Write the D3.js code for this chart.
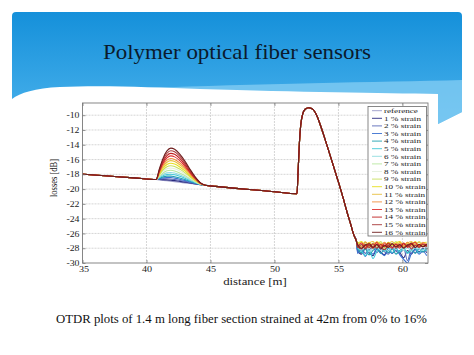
<!DOCTYPE html>
<html><head><meta charset="utf-8">
<script src="https://cdn.jsdelivr.net/npm/d3@7"></script>
<style>html,body{margin:0;padding:0;background:#fff;} svg{display:block}</style>
</head><body><svg id="c" width="474" height="355"></svg>
<script>
// ---------------- data ----------------
const seriesNames = ["reference","1 % strain","2 % strain","3 % strain","4 % strain","5 % strain","6 % strain","7 % strain","8 % strain","9 % strain","10 % strain","11 % strain","12 % strain","13 % strain","14 % strain","15 % strain","16 % strain"];
const seriesColors = ["#9a9ac8","#2a2a80","#5a6ab8","#3a70d0","#20a0b0","#40c8d8","#90dce0","#b8e8a0","#e4efdc","#c8e060","#e8e020","#e8c040","#f09040","#e03030","#c02020","#a83838","#6e1c1c"];
const xTicks = [35,40,45,50,55,60];
const yTicks = [-10,-12,-14,-16,-18,-20,-22,-24,-26,-28,-30];

const baseLeadIn = [[35,-17.97],[37,-18.23],[39,-18.48],[40.75,-18.71]];
const bumpDistance = [41.0,41.3,41.6,41.9,42.2,42.6,43.0,43.4,43.8,44.2];
const referenceBump = [-18.76,-18.82,-18.88,-18.94,-19.00,-19.08,-19.16,-19.24,-19.32,-19.40];
const strainBumps = [
  [-18.71,-18.72,-18.75,-18.79,-18.85,-18.95,-19.06,-19.18,-19.29,-19.39],
  [-18.66,-18.62,-18.61,-18.64,-18.71,-18.83,-18.96,-19.11,-19.25,-19.38],
  [-18.60,-18.49,-18.43,-18.44,-18.51,-18.66,-18.83,-19.03,-19.21,-19.37],
  [-18.54,-18.35,-18.25,-18.24,-18.32,-18.49,-18.70,-18.94,-19.17,-19.36],
  [-18.46,-18.18,-18.03,-18.00,-18.07,-18.27,-18.53,-18.83,-19.11,-19.34],
  [-18.38,-18.02,-17.80,-17.75,-17.83,-18.06,-18.37,-18.72,-19.06,-19.33],
  [-18.28,-17.82,-17.53,-17.45,-17.54,-17.81,-18.17,-18.60,-18.99,-19.31],
  [-18.18,-17.61,-17.26,-17.15,-17.25,-17.55,-17.97,-18.47,-18.92,-19.29],
  [-18.09,-17.41,-16.99,-16.85,-16.95,-17.30,-17.77,-18.34,-18.86,-19.27],
  [-17.98,-17.18,-16.68,-16.50,-16.61,-17.00,-17.54,-18.19,-18.78,-19.25],
  [-17.86,-16.94,-16.36,-16.15,-16.27,-16.70,-17.31,-18.04,-18.70,-19.23],
  [-17.77,-16.74,-16.09,-15.86,-15.98,-16.45,-17.11,-17.91,-18.64,-19.21],
  [-17.66,-16.51,-15.78,-15.51,-15.64,-16.15,-16.88,-17.76,-18.56,-19.19],
  [-17.54,-16.27,-15.46,-15.16,-15.30,-15.85,-16.65,-17.61,-18.48,-19.17],
  [-17.43,-16.04,-15.15,-14.81,-14.95,-15.55,-16.42,-17.46,-18.41,-19.15],
  [-17.32,-15.81,-14.83,-14.46,-14.61,-15.26,-16.19,-17.31,-18.33,-19.13]
];
const sharedMiddle = [[44.6,-19.48],[45.4,-19.63],[47,-19.9],[49,-20.2],[50,-20.36],[51.76,-20.62]];
const mainPeak = [[51.85,-17.6],[51.95,-13.8],[52.05,-11.4],[52.2,-9.9],[52.4,-9.2],[52.67,-9.0],[52.9,-9.1],[53.1,-9.4],[53.35,-10.2],[53.6,-11.4],[53.85,-12.7],[54.1,-14.05],[54.4,-15.7],[54.63,-17.0],[54.9,-18.5],[55.15,-19.9],[55.4,-21.4],[55.67,-23.1],[55.95,-24.7],[56.2,-26.2],[56.4,-27.0]];
const tailDistance = [56.5,56.8,57.1,57.4,57.7,58.0,58.3,58.6,58.9,59.2,59.5,59.8,60.1,60.4,60.7,61.0,61.3,61.6,61.9];
const tailLosses = [
  [-27.6,-28.0,-27.5,-28.2,-27.7,-27.9,-27.4,-28.1,-27.6,-27.8,-28.3,-27.5,-27.9,-27.6,-28.0,-27.5,-27.9,-27.7,-28.0],
  [-28.3,-28.8,-28.0,-28.6,-29.0,-28.1,-28.5,-28.9,-28.0,-28.7,-28.2,-28.6,-29.3,-28.3,-28.8,-28.1,-28.5,-28.0,-28.6],
  [-28.5,-28.0,-28.7,-28.2,-27.9,-28.6,-28.1,-28.5,-28.8,-28.0,-28.4,-28.7,-28.0,-29.7,-28.2,-28.6,-28.1,-28.5,-28.2],
  [-28.7,-28.2,-29.1,-28.4,-28.8,-28.1,-28.6,-29.0,-28.3,-28.7,-28.0,-28.9,-29.5,-30.0,-28.7,-28.2,-28.8,-28.4,-29.0],
  [-28.0,-28.6,-28.1,-28.9,-28.3,-28.0,-28.7,-28.2,-28.6,-28.1,-28.8,-28.3,-28.0,-28.6,-28.2,-28.7,-28.1,-28.5,-28.0],
  [-27.9,-28.4,-29.0,-28.2,-29.4,-28.4,-27.9,-28.4,-28.0,-28.6,-28.1,-28.5,-28.0,-28.7,-28.2,-28.0,-28.6,-28.1,-28.4],
  [-27.7,-28.2,-27.8,-28.5,-28.0,-27.7,-28.3,-27.9,-28.4,-27.8,-28.2,-27.7,-28.3,-27.9,-28.4,-27.8,-28.1,-28.3,-27.9],
  [-27.4,-27.9,-27.3,-28.0,-27.5,-27.9,-27.4,-28.1,-27.6,-27.3,-27.9,-27.5,-28.0,-27.4,-27.8,-27.3,-27.9,-27.5,-27.8],
  [-27.6,-27.2,-27.8,-27.4,-28.0,-27.3,-27.7,-27.2,-27.9,-27.5,-27.3,-27.8,-27.4,-27.9,-27.3,-27.7,-27.4,-27.8,-27.3],
  [-27.2,-27.7,-27.1,-27.8,-27.3,-27.6,-27.1,-27.7,-27.2,-27.6,-27.1,-27.8,-27.3,-27.7,-27.2,-27.6,-27.1,-27.5,-27.7],
  [-27.3,-27.1,-27.7,-27.2,-27.8,-27.1,-27.5,-27.9,-27.2,-27.6,-27.3,-27.1,-27.7,-27.2,-27.6,-27.1,-27.7,-27.3,-27.2],
  [-27.6,-27.2,-27.9,-27.3,-27.1,-27.7,-27.3,-27.8,-27.4,-27.1,-27.6,-27.2,-27.8,-27.3,-27.1,-27.6,-27.2,-27.7,-27.4],
  [-27.5,-27.8,-27.2,-27.6,-28.0,-27.3,-27.7,-27.2,-27.8,-27.4,-27.9,-27.3,-27.6,-27.2,-27.8,-27.4,-27.7,-27.2,-27.6],
  [-27.7,-27.3,-27.9,-27.4,-27.8,-27.2,-27.9,-27.4,-27.7,-28.0,-27.4,-27.8,-27.3,-27.9,-27.5,-27.2,-27.8,-27.4,-27.7],
  [-27.8,-28.1,-27.5,-27.9,-27.4,-28.0,-27.5,-27.8,-27.3,-27.9,-27.5,-28.0,-27.4,-27.8,-27.3,-27.9,-27.5,-27.8,-27.4],
  [-27.9,-27.5,-28.1,-27.6,-28.0,-27.5,-27.9,-28.2,-27.6,-27.4,-28.0,-27.6,-27.9,-27.5,-28.1,-27.6,-27.9,-27.5,-27.8],
  [-27.5,-28.0,-27.6,-27.4,-27.9,-27.5,-28.1,-27.6,-27.9,-27.4,-27.8,-27.5,-28.0,-27.6,-27.4,-27.9,-27.5,-27.8,-27.5]
];
const titleText = "Polymer optical fiber sensors";
const captionText = "OTDR plots of 1.4 m long fiber section strained at 42m from 0% to 16%";

// ---------------- drawing ----------------
const svg = d3.select("#c");
const serif = "Liberation Serif, Times New Roman, serif";
const defs = svg.append("defs");
const hg = defs.append("linearGradient").attr("id","hg").attr("x1",0).attr("y1",0).attr("x2",0).attr("y2",1);
hg.append("stop").attr("offset","0%").attr("stop-color","#1590da");
hg.append("stop").attr("offset","100%").attr("stop-color","#4ab2ec");

// header
svg.append("path").attr("d","M12,16 Q12,12 16,12 H458 Q462,12 462,16 V112 L438,124 L12,124 Z").attr("fill","url(#hg)");
svg.append("path").attr("d","M150,88 C250,84 380,82 462,80 L462,112 L438,124 L150,124 Z").attr("fill","#86cdf3").attr("opacity",0.75);
svg.append("path").attr("d","M12,99 C20,93 35,88 60,87 C100,85 150,87 200,89 C300,92 380,93 438,94 L438,126 L12,126 Z").attr("fill","#fff");

svg.append("text").attr("x",237).attr("y",59).attr("text-anchor","middle")
  .style("font-family",serif).attr("font-size",21).attr("fill","#0b1a2c").text(titleText)
  .attr("textLength",268).attr("lengthAdjust","spacingAndGlyphs");

svg.append("text").attr("x",241.5).attr("y",323).attr("text-anchor","middle")
  .style("font-family",serif).attr("font-size",13).attr("fill","#111").text(captionText)
  .attr("textLength",371).attr("lengthAdjust","spacingAndGlyphs");

// plot
const L=82.5,R=428,T=103,B=263;
const x = d3.scaleLinear().domain([35,62]).range([L,R]);
const y = d3.scaleLinear().domain([-30,-8.35]).range([B,T]);

function stretch(sel,f){ sel.each(function(){ const w=this.getComputedTextLength(); this.setAttribute("textLength",w*f); this.setAttribute("lengthAdjust","spacingAndGlyphs"); }); }

svg.append("rect").attr("x",L).attr("y",T).attr("width",R-L).attr("height",B-T).attr("fill","#fff");

const grid = svg.append("g");
grid.selectAll("line.v").data(xTicks.filter(d=>d>35)).join("line")
  .attr("x1",d=>x(d)).attr("x2",d=>x(d)).attr("y1",T).attr("y2",B)
  .attr("stroke","#c4c4c4").attr("stroke-width",0.7).attr("stroke-dasharray","2,1");
grid.selectAll("line.h").data(yTicks.filter(d=>d>-30)).join("line")
  .attr("y1",d=>y(d)).attr("y2",d=>y(d)).attr("x1",L).attr("x2",R)
  .attr("stroke","#c4c4c4").attr("stroke-width",0.7).attr("stroke-dasharray","2,1");

defs.append("clipPath").attr("id","pc").append("rect").attr("x",L).attr("y",T).attr("width",R-L).attr("height",B-T);

const series = seriesNames.map((name,i)=>{
  const bump = i===0 ? referenceBump : strainBumps[i-1];
  const pts = baseLeadIn.concat(bumpDistance.map((d,j)=>[d,bump[j]]), sharedMiddle, mainPeak, tailDistance.map((d,j)=>[d,tailLosses[i][j]]));
  return {name, color:seriesColors[i], pts};
});
const line = d3.line().x(d=>x(d[0])).y(d=>y(d[1])).curve(d3.curveMonotoneX);
svg.append("g").attr("clip-path","url(#pc)").selectAll("path").data(series).join("path")
  .attr("d",d=>line(d.pts)).attr("fill","none").attr("stroke",d=>d.color).attr("stroke-width",1.1).attr("stroke-linejoin","round");

// frame + ticks
svg.append("rect").attr("x",L).attr("y",T).attr("width",R-L).attr("height",B-T).attr("fill","none").attr("stroke","#7a7a7a").attr("stroke-width",0.9);
const axB = d3.axisBottom(x).tickValues(xTicks).tickSize(-3).tickPadding(3.5).tickFormat(d3.format("d"));
const gB = svg.append("g").attr("transform",`translate(0,${B})`).call(axB);
const axL = d3.axisLeft(y).tickValues(yTicks).tickSize(-3).tickPadding(3).tickFormat(d=>String(d));
const gL = svg.append("g").attr("transform",`translate(${L},0)`).call(axL);
svg.append("g").attr("transform",`translate(0,${T})`).call(d3.axisTop(x).tickValues(xTicks).tickSize(-3).tickFormat(""));
svg.append("g").attr("transform",`translate(${R},0)`).call(d3.axisRight(y).tickValues(yTicks).tickSize(-3).tickFormat(""));
svg.selectAll(".domain").remove();
svg.selectAll(".tick line").attr("stroke","#7a7a7a").attr("stroke-width",0.8);
[gB,gL].forEach(g=>g.selectAll("text").style("font-family",serif).attr("font-size",8.3).attr("fill","#222"));
gB.selectAll(".tick").filter(d=>d===35).select("text").attr("dx",1);
stretch(gB.selectAll("text"),1.22);
stretch(gL.selectAll("text"),1.18);

// axis labels
const xl = svg.append("text").attr("x",255).attr("y",285).attr("text-anchor","middle")
  .style("font-family",serif).attr("font-size",10.5).attr("fill","#222").text("distance [m]");
stretch(xl,1.22);
svg.append("text").attr("transform","translate(57,178) rotate(-90)").attr("text-anchor","middle")
  .style("font-family",serif).attr("font-size",10.5).attr("fill","#222").text("losses [dB]")
  .attr("textLength",38).attr("lengthAdjust","spacingAndGlyphs");

// legend
const lg = svg.append("g");
lg.append("rect").attr("x",368).attr("y",106.5).attr("width",58.5).attr("height",129.5).attr("fill","#fff").attr("stroke","#6a6a6a").attr("stroke-width",0.8);
const rows = lg.selectAll("g.row").data(series).join("g").attr("transform",(d,i)=>`translate(0,${110.7+i*7.6})`);
rows.append("line").attr("x1",372).attr("x2",382).attr("stroke",d=>d.color).attr("stroke-width",0.9);
const lt = rows.append("text").attr("x",384).attr("dy","0.33em").style("font-family",serif).attr("font-size",7).attr("fill","#222").text(d=>d.name);
let maxW = 0; lt.each(function(){ maxW = Math.max(maxW, this.getComputedTextLength()); });
const lf = Math.min(1.35, 41.5/maxW);
stretch(lt, lf);
</script></body></html>
